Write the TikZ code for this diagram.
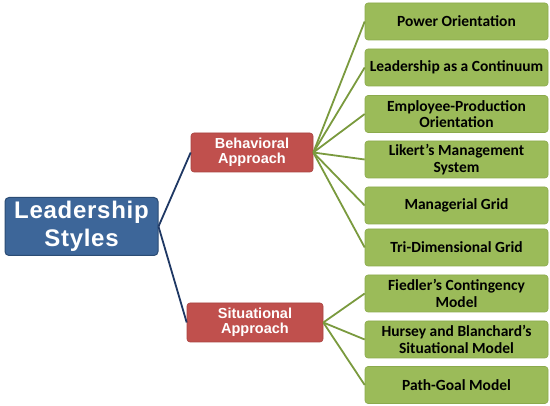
\documentclass[tikz,border=0pt]{standalone}
\usepackage{fontspec}
\setmainfont{Liberation Sans}
\newfontfamily\leaffont{Carlito}
\newfontfamily\rootfont[LetterSpace=3]{Liberation Sans}

\definecolor{lsBlue}{HTML}{3D6699}
\definecolor{lsBlueDark}{HTML}{2B4C74}
\definecolor{lsRed}{HTML}{C0504D}
\definecolor{lsRedDark}{HTML}{A94340}
\definecolor{lsGreen}{HTML}{9BBB59}
\definecolor{lsGreenDark}{HTML}{8BAA4C}
\definecolor{lsNavy}{HTML}{1F3864}
\definecolor{lsOlive}{HTML}{7A9A3E}

\begin{document}
\begin{tikzpicture}[x=1pt,y=-1pt,
  rootbox/.style={fill=lsBlue,draw=lsBlueDark,line width=1pt,rounded corners=4pt,
    minimum width=153pt,minimum height=58pt,align=center,text=white,
    font=\rootfont\fontsize{24}{28}\selectfont\bfseries},
  approachbox/.style={fill=lsRed,draw=lsRedDark,line width=0.6pt,rounded corners=3pt,
    minimum width=122pt,minimum height=39pt,align=center,text=white,inner sep=1pt,
    font=\fontsize{14.5}{15.5}\selectfont\bfseries},
  leafbox/.style={fill=lsGreen,draw=lsGreenDark,line width=0.6pt,rounded corners=3pt,
    minimum width=183pt,minimum height=37pt,align=center,inner sep=1pt,
    font=\leaffont\fontsize{15.5}{16.5}\selectfont\bfseries},
  rootline/.style={draw=lsNavy,line width=1.8pt},
  leafline/.style={draw=lsOlive,line width=1.8pt}]

  \useasboundingbox (0,0) rectangle (550,406);

  % Root
  \node[rootbox] (root) at (81.5,226.5) {Leadership\\Styles};

  % Approaches
  \node[approachbox] (beh) at (252,152.5) {Behavioral\\Approach};
  \node[approachbox,minimum width=136pt] (sit) at (255,322.5) {Situational\\Approach};

  % Leaves
  \foreach \y/\n/\txt in {21.5/pow/{Power Orientation},
      67.5/cont/{Leadership as a Continuum},
      114/emp/{Employee-Production\\Orientation},
      159.5/lik/{Likert’s Management\\System},
      205.5/grid/{Managerial Grid},
      247.5/tri/{Tri-Dimensional Grid},
      293.5/fied/{Fiedler’s Contingency\\Model},
      339.5/hur/{Hursey and Blanchard’s\\Situational Model},
      385/path/{Path-Goal Model}} {
    \node[leafbox] (\n) at (456.5,\y) {\txt};
  }

  % Connectors
  \draw[rootline] (root.east) -- (beh.west);
  \draw[rootline] (root.east) -- (sit.west);

  \foreach \n in {pow,cont,emp,lik,grid,tri}
    \draw[leafline] (beh.east) -- (\n.west);
  \foreach \n in {fied,hur,path}
    \draw[leafline] (sit.east) -- (\n.west);

\end{tikzpicture}
\end{document}
